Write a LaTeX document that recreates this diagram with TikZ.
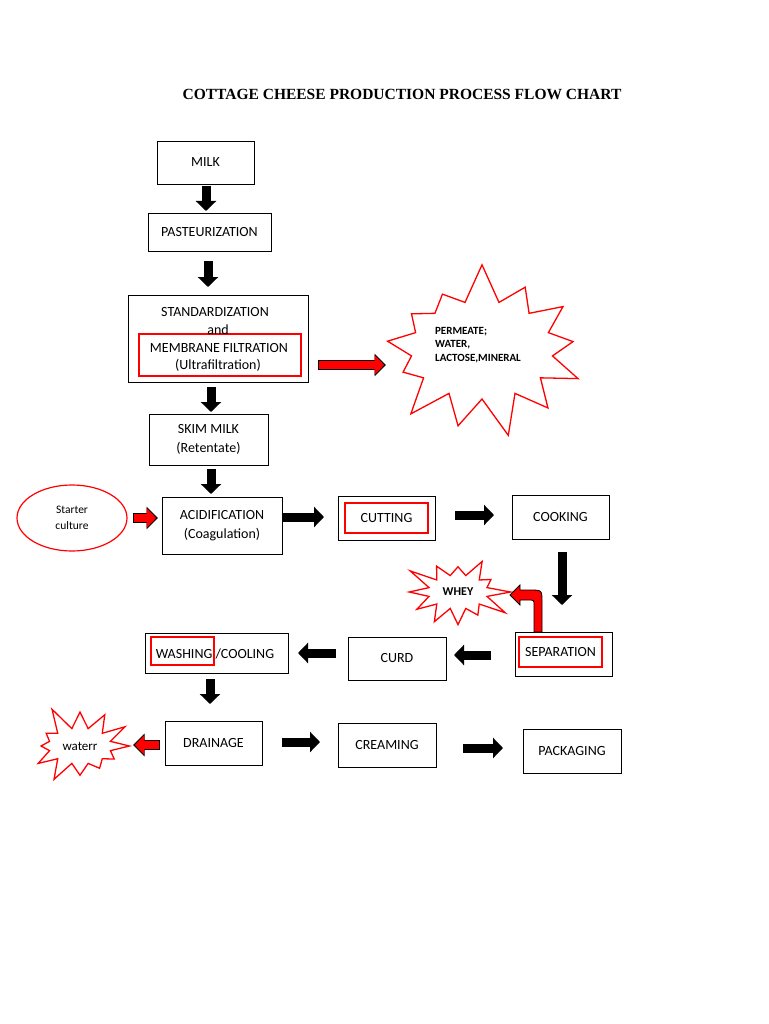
\documentclass[tikz,border=0pt]{standalone}
\usepackage{fontspec}
\setmainfont{Carlito}
\newfontfamily\titlefont{Liberation Serif}
\usetikzlibrary{shapes.symbols,shapes.geometric,arrows.meta}
\begin{document}
\begin{tikzpicture}[x=1pt,y=-1pt,
  box/.style={draw,line width=0.8pt,inner sep=0pt,align=center,font=\fontsize{14}{19}\selectfont},
  txt/.style={font=\fontsize{14}{16}\selectfont,inner sep=0pt},
  redbox/.style={draw=red,line width=2pt,inner sep=0pt},
  barrow/.style={line width=9pt,-{Triangle[width=20pt,length=10pt]}},
  rout/.style={line width=10.5pt,-{Triangle[width=22pt,length=11.5pt]}},
  rin/.style={line width=8pt,red,-{Triangle[width=19pt,length=9.5pt]},shorten >=0.8pt},
  burst/.style={starburst,draw=red,line width=1.3pt,fill=white,font=\bfseries\fontsize{11}{13}\selectfont,align=left,inner sep=0pt}]
\useasboundingbox (0,0) rectangle (768,1024);
\node[font=\titlefont\bfseries\fontsize{15.5}{17}\selectfont] (title) at (402,94) {COTTAGE CHEESE PRODUCTION PROCESS FLOW CHART};

\node[box,minimum width=97pt,minimum height=43pt] (milk) at (205.5,162.5) {MILK};
\node[box,minimum width=123pt,minimum height=38pt] (past) at (209.5,232) {PASTEURIZATION};
\node[box,minimum width=180pt,minimum height=87pt] (std) at (218,338.5) {};
\node[redbox,minimum width=162pt,minimum height=42pt] (mf) at (220,355) {};
\node[txt] (t1) at (215,312) {STANDARDIZATION};
\node[txt] (t2) at (218,330) {and};
\node[txt] (t3) at (219,348) {MEMBRANE FILTRATION};
\node[txt] (t4) at (218,365) {(Ultrafiltration)};
\node[burst,starburst points=13,starburst point height=40pt,minimum width=222pt,minimum height=178pt,random starburst=7] (perm) at (482,350) {};
\node[font=\bfseries\fontsize{11}{13.5}\selectfont,align=left] (permt) at (478,345) {PERMEATE;\\WATER,\\LACTOSE,MINERAL};
\node[box,minimum width=119pt,minimum height=51pt] (skim) at (208.5,439.5) {SKIM MILK\\(Retentate)};

\node[draw=red,line width=1.2pt,ellipse,minimum width=110pt,minimum height=66pt,align=center,font=\fontsize{11.5}{16}\selectfont] (start) at (72,518) {Starter\\culture};
\node[box,minimum width=120pt,minimum height=57pt] (acid) at (222,525.5) {ACIDIFICATION\\(Coagulation)};
\node[box,minimum width=97pt,minimum height=44pt] (cut) at (386.5,518) {};
\node[redbox,minimum width=83pt,minimum height=30pt,font=\fontsize{14}{16}\selectfont] (cutin) at (386.5,518) {CUTTING};
\node[box,minimum width=97pt,minimum height=44pt] (cook) at (560.5,517) {COOKING};

\node[box,minimum width=97pt,minimum height=44pt] (sep) at (563.5,654) {};
\node[redbox,minimum width=83pt,minimum height=30pt,font=\fontsize{14}{16}\selectfont] (sepin) at (560.5,652) {SEPARATION};
\node[burst,starburst points=12,starburst point height=26pt,minimum width=112pt,minimum height=86pt,random starburst=3,font=\bfseries\fontsize{12}{14}\selectfont] (whey) at (458,592) {WHEY};
\node[box,minimum width=98pt,minimum height=43pt] (curd) at (397,658.5) {CURD};
\node[box,minimum width=143pt,minimum height=40pt] (wash) at (216.5,653) {};
\node[redbox,minimum width=63pt,minimum height=28pt] (washin) at (182.5,651) {};
\node[txt] (washt) at (215,654) {WASHING /COOLING};

\node[box,minimum width=97pt,minimum height=44pt] (drain) at (213.5,743) {DRAINAGE};
\node[burst,starburst points=12,starburst point height=26pt,minimum width=115pt,minimum height=88pt,random starburst=5,font=\fontsize{13}{15}\selectfont] (water) at (80,746) {waterr};
\node[box,minimum width=98pt,minimum height=44pt] (cream) at (387,745) {CREAMING};
\node[box,minimum width=98pt,minimum height=44pt] (pack) at (572,751) {PACKAGING};

% block arrows
\draw[barrow] (206,186) -- (206,211);
\draw[barrow] (208,261) -- (208,287);
\draw[rout] (318,365) -- (386,365);
\draw[rin] (319.3,365) -- (385,365);
\draw[barrow] (211,387) -- (211,412);
\draw[barrow] (211,469) -- (211,494);
\draw[rout] (133,518) -- (158,518);
\draw[rin] (134.3,518) -- (157,518);
\draw[barrow] (283,517) -- (324,517);
\draw[barrow] (455,515) -- (494,515);
\draw[barrow] (562,552) -- (562,605);
\draw[barrow] (491,655) -- (454,655);
\draw[barrow] (336,653) -- (298,653);
\draw[barrow] (210,679) -- (210,704);
\draw[rout] (160,745) -- (133,745);
\draw[rin] (158.7,745) -- (134,745);
\draw[barrow] (282,742) -- (320,742);
\draw[barrow] (463,748) -- (503,748);

% bent red arrow
\draw[fill=red,line width=0.8pt] (534,632) -- (534,605) .. controls (534,600) .. (528,600) -- (520,600) -- (520,605) -- (510,595) -- (520,585) -- (520,590) -- (530,590) .. controls (542,590) .. (542,602) -- (542,632) -- cycle;
\end{tikzpicture}
\end{document}
